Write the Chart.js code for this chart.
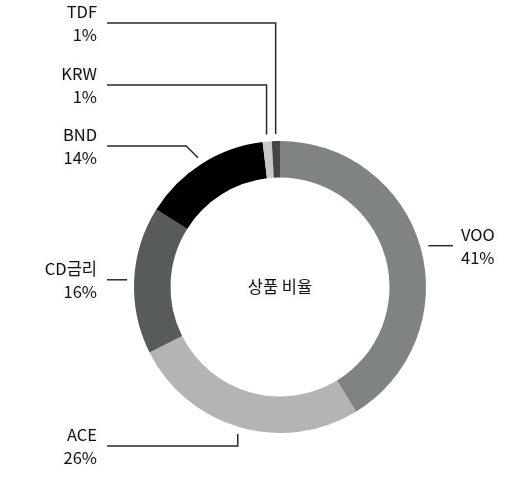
<!DOCTYPE html>
<html lang="ko">
<head>
<meta charset="utf-8">
<title>상품 비율</title>
<script src="https://cdn.jsdelivr.net/npm/chart.js@4/dist/chart.umd.min.js"></script>
<style>
    html, body { margin: 0; padding: 0; background: #fff; }
    #wrap { width: 530px; height: 480px; position: relative; }
</style>
</head>
<body>
<div id="wrap"><canvas id="chartProductos"></canvas></div>
<script>
'use strict';

// ── Datos del gráfico ─────────────────────────────
const productNames = ['VOO', 'ACE', 'CD금리', 'BND', 'KRW', 'TDF'];
const productShares = [41.3, 26.3, 16.3, 14.2, 1.0, 0.9];
const productColors = ['#7f8381', '#b4b4b4', '#575b59', '#000000', '#c8c8c8', '#444444'];
const centerTitle = '상품 비율';

// Posición de cada etiqueta: lado, altura de la línea y tipo de conector
const labelLayout = {
    'VOO':    { side: 'right', lineY: null, textX: 461, kind: 'straight' },
    'ACE':    { side: 'left',  lineY: 446,  textX: 97,  kind: 'vertical' },
    'CD금리': { side: 'left',  lineY: null, textX: 97,  kind: 'straight' },
    'BND':    { side: 'left',  lineY: 146,  textX: 97,  kind: 'diagonal' },
    'KRW':    { side: 'left',  lineY: 85,   textX: 97,  kind: 'vertical' },
    'TDF':    { side: 'left',  lineY: 23,   textX: 97,  kind: 'vertical' }
};

const FONT = '"Noto Sans CJK KR", "Noto Sans", sans-serif';

// Plugin: etiquetas externas con líneas guía + título central
const etiquetasExternas = {
    id: 'etiquetasExternas',
    afterDatasetsDraw(chart) {
        const ctx = chart.ctx;
        const meta = chart.getDatasetMeta(0);

        meta.data.forEach((arc, i) => {
            const name = chart.data.labels[i];
            const cfg = labelLayout[name];
            if (!cfg) return;

            const mid = (arc.startAngle + arc.endAngle) / 2;
            const r = arc.outerRadius + 7;
            const ax = arc.x + Math.cos(mid) * r;
            const ay = arc.y + Math.sin(mid) * r;
            const lineY = cfg.lineY === null ? ay : cfg.lineY;
            const gap = cfg.side === 'left' ? 10 : -8;
            const lineStart = cfg.textX + gap;

            ctx.save();
            ctx.strokeStyle = '#2a2a2a';
            ctx.lineWidth = 1.5;
            ctx.beginPath();
            ctx.moveTo(lineStart, lineY);
            if (cfg.kind === 'vertical') {
                ctx.lineTo(ax, lineY);
                ctx.lineTo(ax, ay);
            } else if (cfg.kind === 'diagonal') {
                const elbowX = ax - Math.abs(ay - lineY);
                ctx.lineTo(elbowX, lineY);
                ctx.lineTo(ax, ay);
            } else {
                ctx.lineTo(cfg.side === 'left' ? ax : ax + 1, lineY);
            }
            ctx.stroke();

            // Texto: nombre y porcentaje
            const pct = Math.round(chart.data.datasets[0].data[i]) + '%';
            ctx.fillStyle = '#111';
            ctx.font = '16.5px ' + FONT;
            ctx.textAlign = cfg.side === 'left' ? 'right' : 'left';
            ctx.textBaseline = 'middle';
            ctx.shadowColor = 'rgba(0,0,0,0.15)';
            ctx.shadowBlur = 7;
            ctx.fillText(name, cfg.textX, lineY - 11);
            ctx.fillText(pct, cfg.textX, lineY + 12);
            ctx.restore();
        });

        // Título central
        const first = meta.data[0];
        if (first) {
            ctx.save();
            ctx.fillStyle = '#111';
            ctx.font = '16.5px ' + FONT;
            ctx.textAlign = 'center';
            ctx.textBaseline = 'middle';
            ctx.shadowColor = 'rgba(0,0,0,0.15)';
            ctx.shadowBlur = 7;
            ctx.fillText(centerTitle, first.x, first.y);
            ctx.restore();
        }
    }
};

new Chart(document.getElementById('chartProductos').getContext('2d'), {
    type: 'doughnut',
    data: {
        labels: productNames,
        datasets: [{
            data: productShares,
            backgroundColor: productColors,
            borderWidth: 0
        }]
    },
    options: {
        responsive: true,
        maintainAspectRatio: false,
        animation: false,
        cutout: '75%',
        layout: { padding: { top: 141, bottom: 47, left: 134, right: 104 } },
        plugins: {
            legend: { display: false },
            tooltip: { enabled: false }
        }
    },
    plugins: [etiquetasExternas]
});
</script>
</body>
</html>
